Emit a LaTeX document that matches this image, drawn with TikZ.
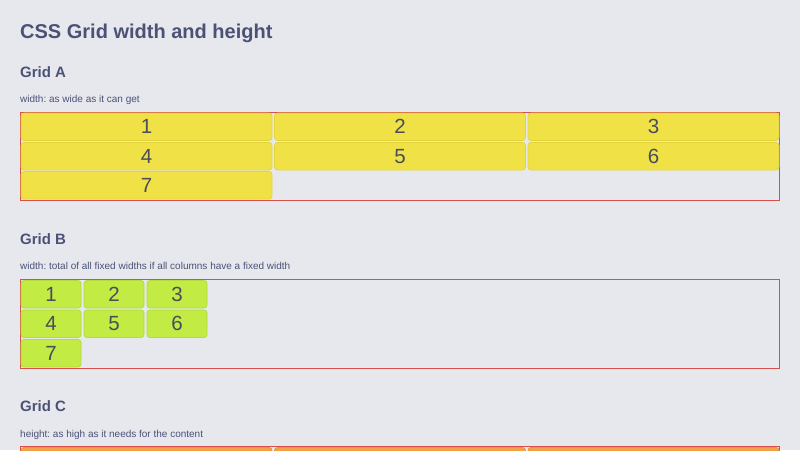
\documentclass[tikz,border=0pt]{standalone}
\usepackage{fontspec}
\setmainfont{Liberation Sans}
\frenchspacing
\definecolor{bg}{HTML}{E7E8EE}
\definecolor{ink}{HTML}{4A5275}
\definecolor{digit}{HTML}{4A4D5A}
\definecolor{gridred}{HTML}{D64F4A}
\definecolor{yel}{HTML}{F0E246}
\definecolor{yeld}{HTML}{E3D43E}
\definecolor{grn}{HTML}{C2EB44}
\definecolor{grnd}{HTML}{B3DC3C}
\definecolor{org}{HTML}{F0A24A}
\definecolor{orgd}{HTML}{E3953F}
\begin{document}
\begin{tikzpicture}[x=1pt,y=-1pt,
  title/.style={anchor=base west,inner sep=0,text=ink,font=\fontsize{20}{24}\selectfont\bfseries},
  head/.style={anchor=base west,inner sep=0,text=ink,font=\fontsize{15}{18}\selectfont\bfseries},
  note/.style={anchor=base west,inner sep=0,text=ink,font=\fontsize{10}{12}\selectfont},
  gridbox/.style={draw=gridred,line width=0.9pt},
  cell/.style={inner sep=0,rounded corners=3pt,line width=0.8pt,text=digit,font=\fontsize{20.5}{24}\selectfont,minimum height=27.5pt},
  cellA/.style={cell,fill=yel,draw=yeld,minimum width=251pt},
  cellB/.style={cell,fill=grn,draw=grnd,minimum width=60pt},
  cellC/.style={cell,fill=org,draw=orgd,minimum width=251pt}]
\useasboundingbox (0,0) rectangle (800,450);
\fill[bg] (0,0) rectangle (800,450);
\clip (0,0) rectangle (800,450);

\node[title] (t) at (20,38) {CSS Grid width and height};

% Grid A
\node[head] (ha) at (20,77.5) {Grid A};
\node[note] (na) at (20,102) {width: as wide as it can get};
\draw[gridbox] (20.5,112) rectangle (779.5,200.5);
\node[cellA] (a1) at (146.5,126.75) {1};
\node[cellA] (a2) at (400,126.75) {2};
\node[cellA] (a3) at (653.5,126.75) {3};
\node[cellA] (a4) at (146.5,156.25) {4};
\node[cellA] (a5) at (400,156.25) {5};
\node[cellA] (a6) at (653.5,156.25) {6};
\node[cellA] (a7) at (146.5,185.25) {7};

% Grid B
\node[head] (hb) at (20,244.5) {Grid B};
\node[note] (nb) at (20,269.5) {width: total of all fixed widths if all columns have a fixed width};
\draw[gridbox] (20.5,279.5) rectangle (779.5,368);
\node[cellB] (b1) at (51,294.25) {1};
\node[cellB] (b2) at (114,294.25) {2};
\node[cellB] (b3) at (177,294.25) {3};
\node[cellB] (b4) at (51,323.75) {4};
\node[cellB] (b5) at (114,323.75) {5};
\node[cellB] (b6) at (177,323.75) {6};
\node[cellB] (b7) at (51,353.25) {7};

% Grid C
\node[head] (hc) at (20,411.5) {Grid C};
\node[note] (nc) at (20,437) {height: as high as it needs for the content};
\draw[gridbox] (20.5,446.5) rectangle (779.5,480);
\node[cellC] (c1) at (146.5,461.25) {};
\node[cellC] (c2) at (400,461.25) {};
\node[cellC] (c3) at (653.5,461.25) {};
\end{tikzpicture}
\end{document}
